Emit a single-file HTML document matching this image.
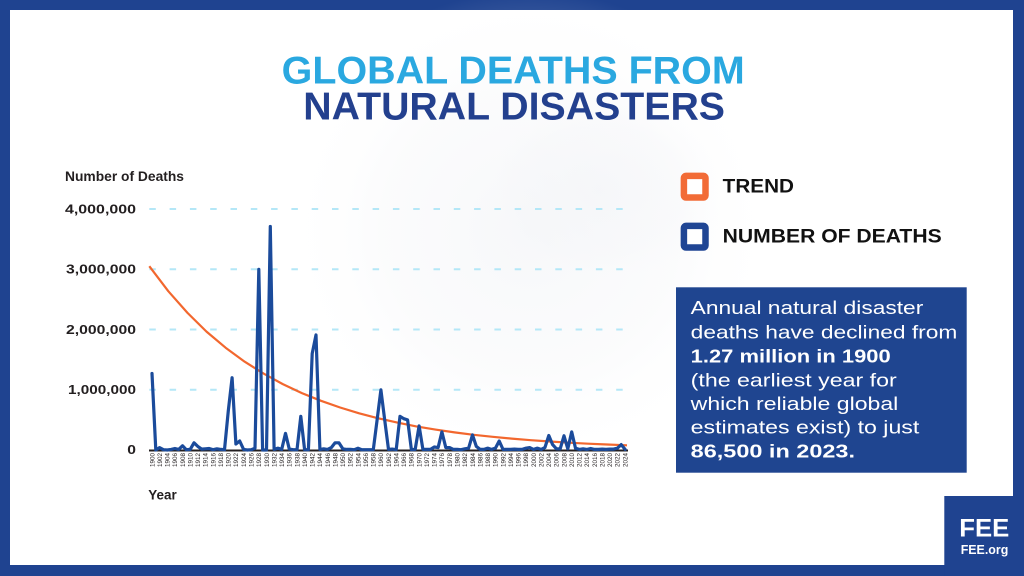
<!DOCTYPE html>
<html><head><meta charset="utf-8"><style>
html,body{margin:0;padding:0;background:#fff;}
svg{display:block;}
text{font-family:"Liberation Sans",sans-serif;}
</style></head><body>
<svg width="1024" height="576" viewBox="0 0 1024 576" xmlns="http://www.w3.org/2000/svg">
<defs>
<radialGradient id="sw" cx="0.5" cy="0.5" r="0.5">
<stop offset="0" stop-color="#eef0f4" stop-opacity="0.7"/>
<stop offset="0.6" stop-color="#f3f4f7" stop-opacity="0.45"/>
<stop offset="1" stop-color="#ffffff" stop-opacity="0"/>
</radialGradient>
</defs>
<rect x="0" y="0" width="1024" height="576" fill="#1f4390"/>
<rect x="10" y="10" width="1003" height="555" fill="#ffffff"/>
<ellipse cx="530" cy="230" rx="250" ry="240" fill="url(#sw)" opacity="0.7"/>
<ellipse cx="600" cy="190" rx="140" ry="110" fill="url(#sw)" opacity="0.5"/>

<!-- Title -->
<text x="281.7" y="83.3" font-size="39" font-weight="bold" fill="#2aa8e0" textLength="463" lengthAdjust="spacingAndGlyphs">GLOBAL DEATHS FROM</text>
<text x="303.3" y="119.3" font-size="39" font-weight="bold" fill="#23408e" textLength="421.7" lengthAdjust="spacingAndGlyphs">NATURAL DISASTERS</text>

<!-- Axis titles -->
<text x="65" y="181" font-size="13.5" font-weight="bold" fill="#231f20" textLength="119" lengthAdjust="spacingAndGlyphs">Number of Deaths</text>
<text x="148.3" y="499.3" font-size="13.5" font-weight="bold" fill="#231f20" textLength="28.4" lengthAdjust="spacingAndGlyphs">Year</text>

<!-- Y labels -->
<g font-size="12.5" font-weight="bold" fill="#231f20">
<text x="65" y="213.3" textLength="71" lengthAdjust="spacingAndGlyphs">4,000,000</text>
<text x="66" y="273.6" textLength="70" lengthAdjust="spacingAndGlyphs">3,000,000</text>
<text x="66" y="333.8" textLength="70" lengthAdjust="spacingAndGlyphs">2,000,000</text>
<text x="68" y="394" textLength="68" lengthAdjust="spacingAndGlyphs">1,000,000</text>
<text x="127.3" y="453.8" textLength="8.7" lengthAdjust="spacingAndGlyphs">0</text>
</g>

<!-- Gridlines -->
<g stroke="#b4e7f7" stroke-width="2" stroke-dasharray="6.5 13.8">
<line x1="149.3" y1="209" x2="628" y2="209"/>
<line x1="149.3" y1="269.3" x2="628" y2="269.3"/>
<line x1="149.3" y1="329.5" x2="628" y2="329.5"/>
<line x1="149.3" y1="389.8" x2="628" y2="389.8"/>
</g>

<!-- Axis -->
<line x1="149" y1="450.5" x2="628" y2="450.5" stroke="#231f20" stroke-width="2"/>

<!-- Trend -->
<polyline fill="none" stroke="#f2672e" stroke-width="2.2" stroke-linejoin="round" points="149.3,266.2 168.4,291.3 187.5,312.9 206.5,331.6 225.6,347.7 244.7,361.7 263.8,373.7 282.8,384.1 301.9,393.1 321.0,400.8 340.1,407.5 359.1,413.3 378.2,418.3 397.3,422.6 416.4,426.4 435.4,429.6 454.5,432.4 473.6,434.8 492.7,436.8 511.7,438.6 530.8,440.2 549.9,441.5 569.0,442.7 588.0,443.7 607.1,444.5 627,445.3"/>

<!-- Number of deaths -->
<polyline fill="none" stroke="#1b4b9b" stroke-width="3.2" stroke-linejoin="round" stroke-linecap="round" points="152.0,373.5 155.8,450 159.6,447.6 163.4,449.7 167.3,450 171.1,449.4 174.9,448.5 178.7,449.4 182.5,445.8 186.3,449.7 190.2,449.4 194.0,442.8 197.8,446.4 201.6,449.1 205.4,448.8 209.2,448.5 213.0,449.7 216.9,448.8 220.7,449.4 224.5,449.7 228.3,410.8 232.1,377.7 235.9,444.0 239.7,441.0 243.6,449.4 247.4,450 251.2,449.7 255.0,448.2 258.8,269.3 262.6,450 266.5,450 270.3,226.5 274.1,449.4 277.9,448.2 281.7,449.4 285.5,433.4 289.3,449.1 293.2,449.7 297.0,449.7 300.8,416.3 304.6,449.7 308.4,449.7 312.2,353.6 316.0,334.9 319.9,449.4 323.7,448.8 327.5,449.4 331.3,447.6 335.1,442.8 338.9,442.8 342.8,448.8 346.6,449.4 350.4,449.4 354.2,449.7 358.0,448.2 361.8,449.7 365.6,449.7 369.5,449.7 373.3,449.7 377.1,419.9 380.9,389.8 384.7,419.9 388.5,449.4 392.3,449.1 396.2,449.7 400.0,416.3 403.8,418.7 407.6,419.9 411.4,449.7 415.2,449.4 419.1,425.9 422.9,449.4 426.7,449.4 430.5,449.4 434.3,447.0 438.1,447.6 441.9,431.9 445.8,447.6 449.6,447.6 453.4,449.4 457.2,449.4 461.0,449.7 464.8,448.8 468.6,448.2 472.5,434.9 476.3,446.4 480.1,449.4 483.9,449.4 487.7,448.2 491.5,449.4 495.4,448.2 499.2,441.0 503.0,449.4 506.8,449.4 510.6,449.4 514.4,449.1 518.2,449.4 522.1,449.4 525.9,448.2 529.7,447.6 533.5,449.4 537.3,448.2 541.1,449.4 544.9,447.6 548.8,435.5 552.6,444.6 556.4,448.8 560.2,448.8 564.0,435.8 567.8,448.8 571.7,431.9 575.5,448.2 579.3,449.4 583.1,448.8 586.9,449.4 590.7,448.5 594.5,449.4 598.4,449.4 602.2,449.1 606.0,449.4 609.8,449.1 613.6,449.1 617.4,448.2 621.2,444.6 625.1,449.4"/>

<!-- Year labels -->
<g font-size="6.3" fill="#231f20" text-anchor="end">
<text transform="translate(154.3 453) rotate(-90)">1900</text>
<text transform="translate(161.9 453) rotate(-90)">1902</text>
<text transform="translate(169.6 453) rotate(-90)">1904</text>
<text transform="translate(177.2 453) rotate(-90)">1906</text>
<text transform="translate(184.8 453) rotate(-90)">1908</text>
<text transform="translate(192.5 453) rotate(-90)">1910</text>
<text transform="translate(200.1 453) rotate(-90)">1912</text>
<text transform="translate(207.7 453) rotate(-90)">1914</text>
<text transform="translate(215.3 453) rotate(-90)">1916</text>
<text transform="translate(223.0 453) rotate(-90)">1918</text>
<text transform="translate(230.6 453) rotate(-90)">1920</text>
<text transform="translate(238.2 453) rotate(-90)">1922</text>
<text transform="translate(245.9 453) rotate(-90)">1924</text>
<text transform="translate(253.5 453) rotate(-90)">1926</text>
<text transform="translate(261.1 453) rotate(-90)">1928</text>
<text transform="translate(268.8 453) rotate(-90)">1930</text>
<text transform="translate(276.4 453) rotate(-90)">1932</text>
<text transform="translate(284.0 453) rotate(-90)">1934</text>
<text transform="translate(291.6 453) rotate(-90)">1936</text>
<text transform="translate(299.3 453) rotate(-90)">1938</text>
<text transform="translate(306.9 453) rotate(-90)">1940</text>
<text transform="translate(314.5 453) rotate(-90)">1942</text>
<text transform="translate(322.2 453) rotate(-90)">1944</text>
<text transform="translate(329.8 453) rotate(-90)">1946</text>
<text transform="translate(337.4 453) rotate(-90)">1948</text>
<text transform="translate(345.1 453) rotate(-90)">1950</text>
<text transform="translate(352.7 453) rotate(-90)">1952</text>
<text transform="translate(360.3 453) rotate(-90)">1954</text>
<text transform="translate(367.9 453) rotate(-90)">1956</text>
<text transform="translate(375.6 453) rotate(-90)">1958</text>
<text transform="translate(383.2 453) rotate(-90)">1960</text>
<text transform="translate(390.8 453) rotate(-90)">1962</text>
<text transform="translate(398.5 453) rotate(-90)">1964</text>
<text transform="translate(406.1 453) rotate(-90)">1966</text>
<text transform="translate(413.7 453) rotate(-90)">1968</text>
<text transform="translate(421.4 453) rotate(-90)">1970</text>
<text transform="translate(429.0 453) rotate(-90)">1972</text>
<text transform="translate(436.6 453) rotate(-90)">1974</text>
<text transform="translate(444.2 453) rotate(-90)">1976</text>
<text transform="translate(451.9 453) rotate(-90)">1978</text>
<text transform="translate(459.5 453) rotate(-90)">1980</text>
<text transform="translate(467.1 453) rotate(-90)">1982</text>
<text transform="translate(474.8 453) rotate(-90)">1984</text>
<text transform="translate(482.4 453) rotate(-90)">1986</text>
<text transform="translate(490.0 453) rotate(-90)">1988</text>
<text transform="translate(497.7 453) rotate(-90)">1990</text>
<text transform="translate(505.3 453) rotate(-90)">1992</text>
<text transform="translate(512.9 453) rotate(-90)">1994</text>
<text transform="translate(520.5 453) rotate(-90)">1996</text>
<text transform="translate(528.2 453) rotate(-90)">1998</text>
<text transform="translate(535.8 453) rotate(-90)">2000</text>
<text transform="translate(543.4 453) rotate(-90)">2002</text>
<text transform="translate(551.1 453) rotate(-90)">2004</text>
<text transform="translate(558.7 453) rotate(-90)">2006</text>
<text transform="translate(566.3 453) rotate(-90)">2008</text>
<text transform="translate(574.0 453) rotate(-90)">2010</text>
<text transform="translate(581.6 453) rotate(-90)">2012</text>
<text transform="translate(589.2 453) rotate(-90)">2014</text>
<text transform="translate(596.8 453) rotate(-90)">2016</text>
<text transform="translate(604.5 453) rotate(-90)">2018</text>
<text transform="translate(612.1 453) rotate(-90)">2020</text>
<text transform="translate(619.7 453) rotate(-90)">2022</text>
<text transform="translate(627.4 453) rotate(-90)">2024</text>
</g>

<!-- Legend -->
<rect x="683.9" y="175.9" width="21.6" height="21.6" rx="2" fill="#ffffff" stroke="#f26b36" stroke-width="6.5"/>
<text x="722.7" y="192.7" font-size="19" font-weight="bold" fill="#111" textLength="71.3" lengthAdjust="spacingAndGlyphs">TREND</text>
<rect x="683.9" y="225.9" width="21.6" height="21.6" rx="2" fill="#ffffff" stroke="#1f4594" stroke-width="6.5"/>
<text x="722.7" y="242.7" font-size="19" font-weight="bold" fill="#111" textLength="219" lengthAdjust="spacingAndGlyphs">NUMBER OF DEATHS</text>

<!-- Info box -->
<rect x="676" y="287.3" width="290.7" height="185.4" fill="#1f4590"/>
<g font-size="18.5" fill="#ffffff">
<text x="690.7" y="314" textLength="232.6" lengthAdjust="spacingAndGlyphs">Annual natural disaster</text>
<text x="690.7" y="338.3" textLength="266.6" lengthAdjust="spacingAndGlyphs">deaths have declined from</text>
<text x="690.7" y="362.4" font-weight="bold" textLength="200" lengthAdjust="spacingAndGlyphs">1.27 million in 1900</text>
<text x="690.7" y="386.6" textLength="206" lengthAdjust="spacingAndGlyphs">(the earliest year for</text>
<text x="690.7" y="410" textLength="207.6" lengthAdjust="spacingAndGlyphs">which reliable global</text>
<text x="690.7" y="433.6" textLength="228.6" lengthAdjust="spacingAndGlyphs">estimates exist) to just</text>
<text x="690.7" y="457.6" font-weight="bold" textLength="164.3" lengthAdjust="spacingAndGlyphs">86,500 in 2023.</text>
</g>

<!-- FEE logo box -->
<rect x="944.3" y="496" width="80" height="80" fill="#1f4390"/>
<text x="959.3" y="536.7" font-size="25" font-weight="bold" fill="#ffffff" textLength="50" lengthAdjust="spacingAndGlyphs">FEE</text>
<text x="960.7" y="554" font-size="13" font-weight="bold" fill="#ffffff" textLength="47.6" lengthAdjust="spacingAndGlyphs">FEE.org</text>
</svg>
</body></html>
